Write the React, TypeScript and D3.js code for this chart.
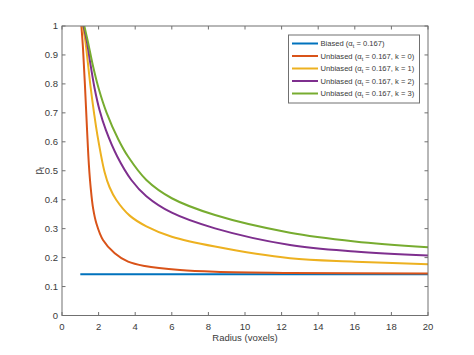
import React from "react";
import * as d3 from "d3";

const xTicks = [0, 2, 4, 6, 8, 10, 12, 14, 16, 18, 20];
const yTicks = [0, 0.1, 0.2, 0.3, 0.4, 0.5, 0.6, 0.7, 0.8, 0.9, 1];

const biasedR = [1.0, 20];
const biasedP = [0.1429, 0.1429];

const k0R = [1.06, 1.15, 1.25, 1.37, 1.47, 1.57, 1.7, 1.88, 2.24, 2.88, 3.61, 4.52, 6.45, 8.36, 12.46, 20];
const k0P = [1.0, 0.92, 0.8, 0.64, 0.52, 0.44, 0.37, 0.318, 0.261, 0.215, 0.186, 0.171, 0.157, 0.151, 0.147, 0.145];

const k1R = [1.12, 1.25, 1.4, 1.57, 1.75, 1.93, 2.33, 2.6, 2.97, 3.7, 4.61, 6, 8.36, 12.46, 16, 20];
const k1P = [1.0, 0.96, 0.88, 0.785, 0.7, 0.625, 0.495, 0.443, 0.399, 0.345, 0.308, 0.272, 0.238, 0.1975, 0.186, 0.177];

const k2R = [1.17, 1.35, 1.55, 1.78, 2.05, 2.4, 3.02, 3.79, 4.61, 6, 8.36, 12.46, 16, 20];
const k2P = [1.0, 0.95, 0.87, 0.785, 0.71, 0.64, 0.549, 0.468, 0.412, 0.355, 0.301, 0.2435, 0.221, 0.207];

const k3R = [1.22, 1.4, 1.7, 2.0, 2.44, 3.08, 3.61, 4.61, 6, 8.36, 12.46, 16, 20];
const k3P = [1.0, 0.95, 0.86, 0.785, 0.7, 0.608, 0.549, 0.468, 0.405, 0.347, 0.286, 0.256, 0.2355];

const seriesNames = ["Biased (", "Unbiased (", "Unbiased (", "Unbiased (", "Unbiased ("];
const seriesSuffix = [" = 0.167)", " = 0.167, k = 0)", " = 0.167, k = 1)", " = 0.167, k = 2)", " = 0.167, k = 3)"];
const colors = ["#0072BD", "#D95319", "#EDB120", "#7E2F8E", "#77AC30"];

const W = 474;
const H = 355;
const left = 62;
const right = 428;
const top = 26;
const bottom = 315.5;

export default function App() {
  const x = d3.scaleLinear().domain([0, 20]).range([left, right]);
  const y = d3.scaleLinear().domain([0, 1]).range([bottom, top]);
  const line = d3
    .line<[number, number]>()
    .x((d) => x(d[0]))
    .y((d) => y(d[1]))
    .curve(d3.curveCatmullRom.alpha(0.5));

  const series: [number, number][][] = [
    biasedR.map((r, i) => [r, biasedP[i]] as [number, number]),
    k0R.map((r, i) => [r, k0P[i]] as [number, number]),
    k1R.map((r, i) => [r, k1P[i]] as [number, number]),
    k2R.map((r, i) => [r, k2P[i]] as [number, number]),
    k3R.map((r, i) => [r, k3P[i]] as [number, number]),
  ];

  const axisColor = "#707070";
  const textColor = "#3a3a3a";
  const font = "'Liberation Sans', Arial, sans-serif";
  const tl = 3.5;

  const legX = 288.5;
  const legY = 35;
  const legW = 131;
  const legH = 68;

  return (
    <svg
      width={W}
      height={H}
      style={{ position: "absolute", left: 0, top: 0, background: "#fff" }}
      fontFamily={font}
    >
      <defs>
        <clipPath id="plotclip">
          <rect x={left} y={top} width={right - left} height={bottom - top} />
        </clipPath>
      </defs>
      <rect x={0} y={0} width={W} height={H} fill="#fff" />
      <g clipPath="url(#plotclip)">
        {series.map((s, i) => (
          <path key={i} d={line(s) || ""} fill="none" stroke={colors[i]} strokeWidth={2} />
        ))}
      </g>
      <rect x={left} y={top} width={right - left} height={bottom - top} fill="none" stroke={axisColor} strokeWidth={1} />
      {xTicks.map((t) => (
        <g key={"x" + t}>
          <line x1={x(t)} x2={x(t)} y1={bottom} y2={bottom - tl} stroke={axisColor} />
          <line x1={x(t)} x2={x(t)} y1={top} y2={top + tl} stroke={axisColor} />
          <text x={x(t)} y={bottom + 14} textAnchor="middle" fontSize={9.5} fill={textColor}>
            {t}
          </text>
        </g>
      ))}
      {yTicks.map((t) => (
        <g key={"y" + t}>
          <line x1={left} x2={left + tl} y1={y(t)} y2={y(t)} stroke={axisColor} />
          <line x1={right} x2={right - tl} y1={y(t)} y2={y(t)} stroke={axisColor} />
          <text x={left - 4} y={y(t) + 3.3} textAnchor="end" fontSize={9.5} fill={textColor}>
            {t}
          </text>
        </g>
      ))}
      <text x={(left + right) / 2} y={341} textAnchor="middle" fontSize={9.5} fill={textColor}>
        Radius (voxels)
      </text>
      <text transform={`translate(42,${(top + bottom) / 2}) rotate(-90)`} textAnchor="middle" fontSize={10} fill={textColor}>
        p<tspan fontSize={7} dy={2}>t</tspan>
      </text>
      <rect x={legX} y={legY} width={legW} height={legH} fill="#fff" stroke={axisColor} strokeWidth={1} />
      {colors.map((c, i) => {
        const ly = legY + 8.5 + i * 12.5;
        return (
          <g key={"l" + i}>
            <line x1={292} x2={318} y1={ly} y2={ly} stroke={c} strokeWidth={2} />
            <text x={320.5} y={ly + 2.7} fontSize={7.6} fill={textColor}>
              {seriesNames[i]}
              {"\u03B1"}
              <tspan fontSize={5.5} dy={1.8}>t</tspan>
              <tspan dy={-1.8}>{seriesSuffix[i]}</tspan>
            </text>
          </g>
        );
      })}
    </svg>
  );
}
